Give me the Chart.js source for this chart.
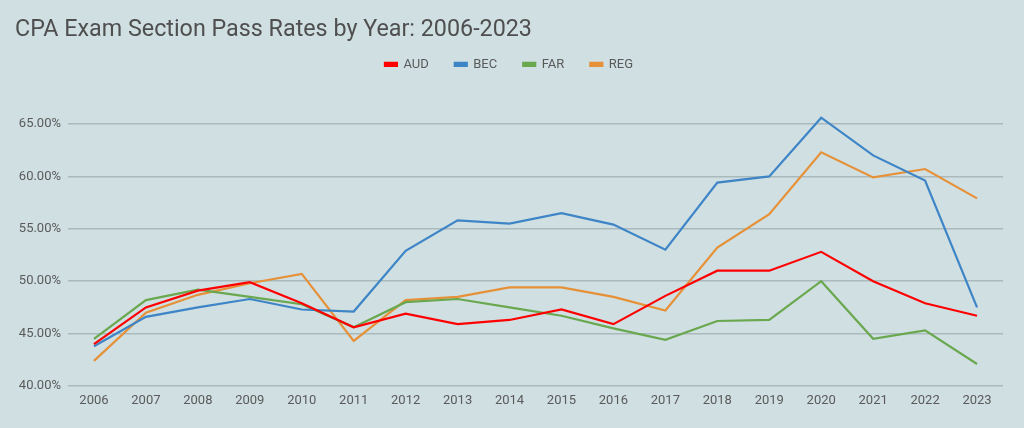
<!DOCTYPE html>
<html>
<head>
<meta charset="utf-8">
<title>CPA Exam Section Pass Rates</title>
<script src="https://cdn.jsdelivr.net/npm/chart.js@4"></script>
<style>
  html, body { margin: 0; padding: 0; background: #d0dfe2; }
  #wrap { width: 1024px; height: 428px; position: relative; }
</style>
</head>
<body>
<div id="wrap"><canvas id="pass-rates"></canvas></div>
<script>
(() => {
  'use strict';

  const years = ['2006', '2007', '2008', '2009', '2010', '2011', '2012', '2013', '2014',
    '2015', '2016', '2017', '2018', '2019', '2020', '2021', '2022', '2023'];

  // pass rates in percent
  const audRates = [44.0, 47.5, 49.1, 49.9, 47.9, 45.6, 46.9, 45.9, 46.3, 47.3, 45.9, 48.6, 51.0, 51.0, 52.8, 50.0, 47.9, 46.7];
  const becRates = [43.8, 46.6, 47.5, 48.3, 47.3, 47.1, 52.9, 55.8, 55.5, 56.5, 55.4, 53.0, 59.4, 60.0, 65.6, 62.0, 59.6, 47.5];
  const farRates = [44.5, 48.2, 49.2, 48.5, 47.8, 45.6, 48.0, 48.3, 47.5, 46.7, 45.5, 44.4, 46.2, 46.3, 50.0, 44.5, 45.3, 42.1];
  const regRates = [42.4, 47.0, 48.7, 49.8, 50.7, 44.3, 48.2, 48.5, 49.4, 49.4, 48.5, 47.2, 53.2, 56.4, 62.3, 59.9, 60.7, 57.9];

  const yTicks = [40, 45, 50, 55, 60, 65];

  const series = [
    { label: 'AUD', data: audRates, color: '#ff0000' },
    { label: 'BEC', data: becRates, color: '#3d85c6' },
    { label: 'FAR', data: farRates, color: '#6aa84f' },
    { label: 'REG', data: regRates, color: '#e69138' }
  ];

  const TEXT = '#5a5a5a';
  const GRID = '#a9b9bc';

  // leave the wide empty band Sheets puts under the legend
  const legendGap = {
    id: 'legendGap',
    beforeInit(chart) {
      const fit = chart.legend.fit;
      chart.legend.fit = function () {
        fit.call(this);
        this.height += 43;
      };
    }
  };

  const ctx = document.getElementById('pass-rates').getContext('2d');
  new Chart(ctx, {
    type: 'line',
    data: {
      labels: years,
      datasets: series.map(s => ({
        label: s.label,
        data: s.data,
        borderColor: s.color,
        backgroundColor: s.color,
        borderWidth: 2.2,
        pointRadius: 0,
        tension: 0,
        clip: false
      }))
    },
    options: {
      responsive: true,
      maintainAspectRatio: false,
      animation: false,
      layout: { padding: { left: 15, right: 21, top: 0, bottom: 0 } },
      scales: {
        x: {
          offset: true,
          grid: { display: false, drawTicks: false },
          border: { display: false },
          ticks: { color: TEXT, font: { family: 'Roboto', size: 13 }, padding: 7, maxRotation: 0 },
          afterFit: scale => { scale.height = 42; }
        },
        y: {
          min: 40,
          max: 65,
          afterBuildTicks: scale => { scale.ticks = yTicks.map(v => ({ value: v })); },
          grid: { color: GRID, lineWidth: 1.5, drawTicks: false },
          border: { display: false },
          ticks: {
            color: TEXT,
            font: { family: 'Roboto', size: 13 },
            padding: 7,
            callback: value => value.toFixed(2) + '%'
          },
          afterFit: scale => { scale.width = 53; }
        }
      },
      plugins: {
        title: {
          display: true,
          text: 'CPA Exam Section Pass Rates by Year: 2006-2023',
          align: 'start',
          color: '#4f4f4f',
          font: { family: 'Roboto', size: 23.3, weight: 'normal' },
          padding: { top: 16, bottom: -12 }
        },
        legend: {
          align: 'center',
          labels: {
            boxWidth: 12,
            boxHeight: 3,
            padding: 26,
            color: TEXT,
            font: { family: 'Roboto', size: 13 }
          }
        },
        tooltip: { enabled: false }
      }
    },
    plugins: [legendGap]
  });
})();
</script>
</body>
</html>
